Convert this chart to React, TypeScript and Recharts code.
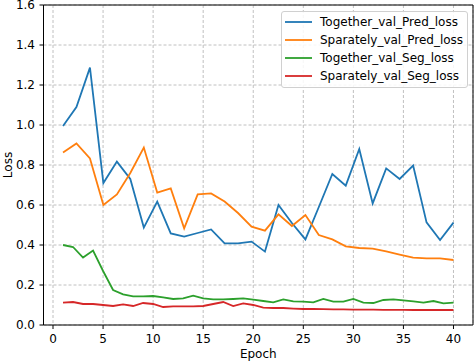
import React from 'react';
import {
  LineChart,
  Line,
  XAxis,
  YAxis,
  CartesianGrid,
  ReferenceLine,
} from 'recharts';

// Epochs at which the prediction losses were logged (30 points between 1 and 40)
const predEpochs = [
  1, 2.34, 3.69, 5.03, 6.38, 7.72, 9.07, 10.41, 11.76, 13.1, 14.45, 15.79, 17.14, 18.48, 19.83,
  21.17, 22.52, 23.86, 25.21, 26.55, 27.9, 29.24, 30.59, 31.93, 33.28, 34.62, 35.97, 37.31, 38.66, 40,
];
// Epochs at which the segmentation losses were logged
const segEpochs = [
  1, 2, 3, 4, 5, 6, 7, 8, 9, 10, 11, 12, 13, 14, 15, 16, 17, 18, 19, 20,
  21, 22, 23, 24, 25, 26, 27, 28, 29, 30, 31, 32, 33, 34, 35, 36, 37, 38, 39, 40,
];

const togetherPredLoss = [
  0.995, 1.09, 1.287, 0.71, 0.817, 0.73, 0.487, 0.617, 0.458, 0.442, 0.46, 0.478, 0.408, 0.408, 0.417,
  0.367, 0.6, 0.51, 0.428, 0.59, 0.755, 0.697, 0.88, 0.608, 0.783, 0.73, 0.797, 0.513, 0.425, 0.512,
];
const sparatelyPredLoss = [
  0.863, 0.908, 0.833, 0.6, 0.653, 0.76, 0.887, 0.662, 0.683, 0.483, 0.653, 0.658, 0.617, 0.56, 0.492,
  0.472, 0.553, 0.495, 0.55, 0.45, 0.428, 0.393, 0.385, 0.382, 0.368, 0.352, 0.337, 0.333, 0.333, 0.325,
];
const togetherSegLoss = [
  0.4, 0.39, 0.337, 0.372, 0.27, 0.175, 0.153, 0.143, 0.143, 0.145, 0.138, 0.13, 0.133, 0.147, 0.133,
  0.128, 0.128, 0.13, 0.133, 0.127, 0.12, 0.113, 0.128, 0.118, 0.117, 0.113, 0.13, 0.117, 0.117, 0.13,
  0.112, 0.11, 0.125, 0.128, 0.123, 0.118, 0.112, 0.12, 0.108, 0.112,
];
const sparatelySegLoss = [
  0.112, 0.115, 0.105, 0.105, 0.1, 0.095, 0.103, 0.095, 0.11, 0.105, 0.09, 0.093, 0.093, 0.093, 0.095,
  0.105, 0.115, 0.095, 0.108, 0.1, 0.087, 0.085, 0.085, 0.082, 0.08, 0.08, 0.079, 0.078, 0.078, 0.077,
  0.077, 0.077, 0.076, 0.076, 0.076, 0.075, 0.075, 0.075, 0.075, 0.075,
];

const xTicks = [0, 5, 10, 15, 20, 25, 30, 35, 40];
const yTicks = [0, 0.2, 0.4, 0.6, 0.8, 1.0, 1.2, 1.4, 1.6];

const seriesNames = [
  'Together_val_Pred_loss',
  'Sparately_val_Pred_loss',
  'Together_val_Seg_loss',
  'Sparately_val_Seg_loss',
];
const seriesColors = ['#1f77b4', '#ff7f0e', '#2ca02c', '#d62728'];

const toPoints = (xs: number[], ys: number[]) => xs.map((x, i) => ({ x, y: ys[i] }));

const seriesData = [
  toPoints(predEpochs, togetherPredLoss),
  toPoints(predEpochs, sparatelyPredLoss),
  toPoints(segEpochs, togetherSegLoss),
  toPoints(segEpochs, sparatelySegLoss),
];

const FONT = '"DejaVu Sans", sans-serif';

function LegendBox() {
  return (
    <div
      style={{
        position: 'absolute',
        top: 11,
        left: 281,
        width: 187,
        border: '1px solid #d0d0d0',
        borderRadius: 3,
        background: 'rgba(255,255,255,0.85)',
        padding: '1px 0 2px 3px',
        fontFamily: FONT,
        fontSize: 12,
        color: '#000',
        boxSizing: 'border-box',
      }}
    >
      {seriesNames.map((name, i) => (
        <div key={name} style={{ display: 'flex', alignItems: 'center', height: 18, whiteSpace: 'nowrap' }}>
          <svg width={27} height={4} style={{ display: 'block', flex: 'none' }}>
            <line x1={0} y1={2} x2={27} y2={2} stroke={seriesColors[i]} strokeWidth={1.8} />
          </svg>
          <span style={{ marginLeft: 8 }}>{name}</span>
        </div>
      ))}
    </div>
  );
}

export default function App() {
  return (
    <div style={{ position: 'absolute', top: 0, left: 0, width: 474, height: 362, background: '#fff' }}>
      <LineChart width={474} height={362} margin={{ top: 5, right: 1, bottom: 0, left: 0 }}>
        <CartesianGrid stroke="#b0b0b0" strokeDasharray="3 2" strokeWidth={0.8} />
        <XAxis
          type="number"
          dataKey="x"
          domain={[-0.95, 41.95]}
          ticks={xTicks}
          interval={0}
          allowDataOverflow
          height={37}
          tickSize={4}
          tickMargin={5}
          axisLine={{ stroke: '#000', strokeWidth: 1 }}
          tickLine={{ stroke: '#000', strokeWidth: 1 }}
          tick={{ fill: '#000', fontSize: 12, fontFamily: FONT }}
          label={{
            value: 'Epoch',
            position: 'insideBottom',
            offset: 4,
            fill: '#000',
            fontSize: 12,
            fontFamily: FONT,
          }}
        />
        <YAxis
          type="number"
          domain={[0, 1.6]}
          ticks={yTicks}
          interval={0}
          allowDataOverflow
          width={43.5}
          tickSize={4}
          tickMargin={4.5}
          tickFormatter={(v: number) => v.toFixed(1)}
          axisLine={{ stroke: '#000', strokeWidth: 1 }}
          tickLine={{ stroke: '#000', strokeWidth: 1 }}
          tick={{ fill: '#000', fontSize: 12, fontFamily: FONT }}
          label={{
            value: 'Loss',
            angle: -90,
            position: 'insideLeft',
            offset: 7.5,
            fill: '#000',
            fontSize: 12,
            fontFamily: FONT,
            style: { textAnchor: 'middle' },
          }}
        />
        <ReferenceLine y={1.6} stroke="#000" strokeWidth={1} />
        <ReferenceLine x={41.95} stroke="#000" strokeWidth={1} />
        {seriesData.map((d, i) => (
          <Line
            key={seriesNames[i]}
            data={d}
            dataKey="y"
            name={seriesNames[i]}
            type="linear"
            stroke={seriesColors[i]}
            strokeWidth={1.8}
            dot={false}
            activeDot={false}
            isAnimationActive={false}
          />
        ))}
      </LineChart>
      <LegendBox />
    </div>
  );
}
